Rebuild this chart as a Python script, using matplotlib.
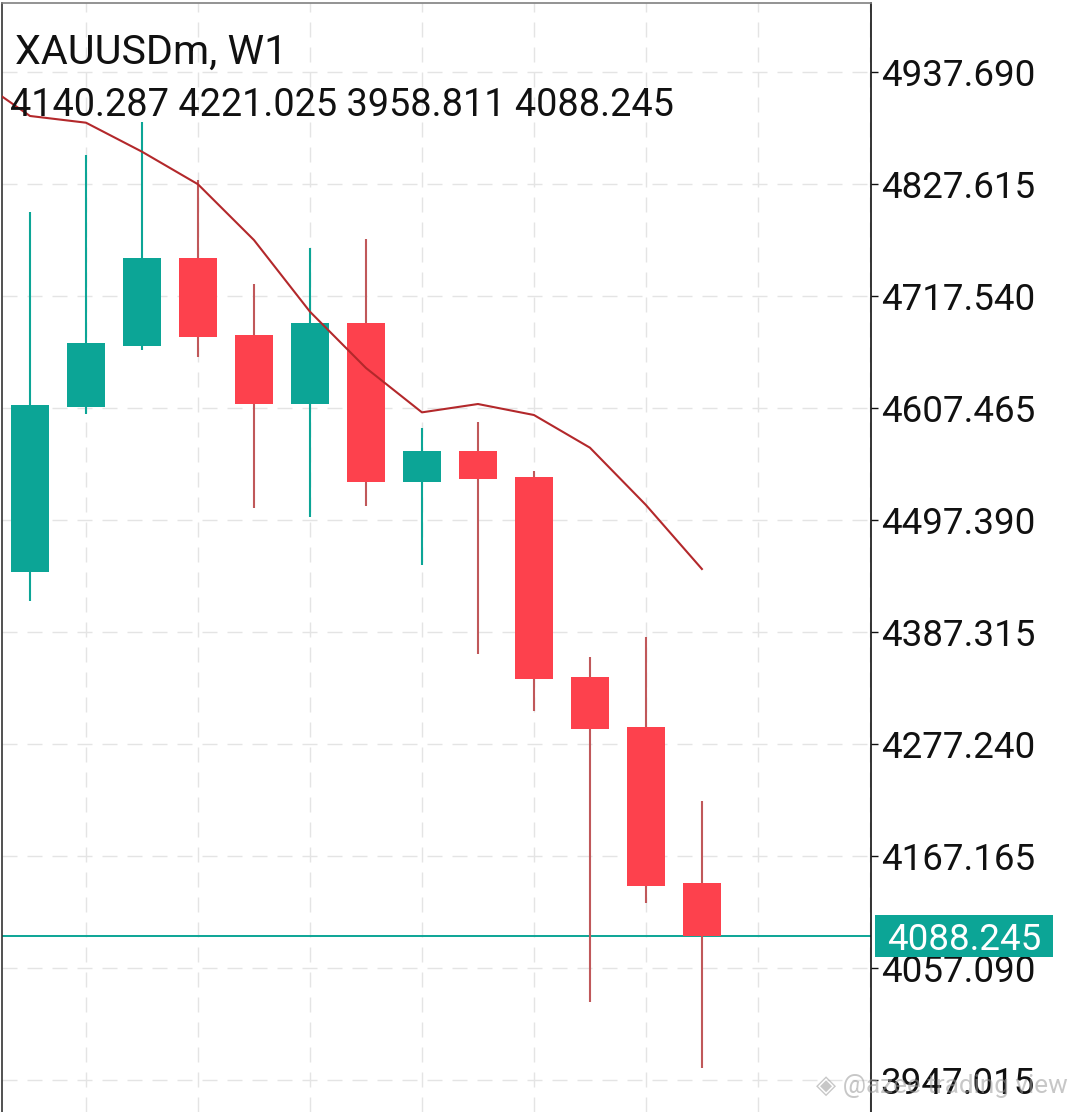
import matplotlib
matplotlib.use("Agg")
import matplotlib.pyplot as plt
from matplotlib.patches import Rectangle
from matplotlib.transforms import blended_transform_factory
import numpy as np

UP = "#0ca596"; DOWN = "#fd414d"; DOWN_WICK = "#c0585a"; MA_C = "#b3282b"
GRID = "#e4e4e4"; INK = "#111111"

plt.rcParams["font.family"] = ["Roboto", "DejaVu Sans"]

symbol = "XAUUSDm, W1"
opens  = [4446.1, 4608.3, 4668.2, 4754.7, 4679.0, 4611.2, 4690.8, 4534.6, 4565.5, 4539.5, 4343.0, 4293.4, 4140.287]
highs  = [4799.8, 4855.9, 4888.3, 4831.3, 4729.1, 4764.5, 4773.3, 4587.6, 4594.0, 4545.4, 4362.6, 4381.8, 4221.025]
lows   = [4417.6, 4601.4, 4664.3, 4657.4, 4509.0, 4500.2, 4511.0, 4453.0, 4365.6, 4309.6, 4023.7, 4120.9, 3958.811]
closes = [4610.2, 4671.1, 4754.7, 4677.0, 4611.2, 4690.8, 4534.6, 4565.5, 4537.5, 4341.0, 4291.9, 4137.6, 4088.245]
# moving average, first value belongs to the week before the first candle
ma_idx  = list(range(-1, 13))
ma_vals = [4932.5, 4894.2, 4887.6, 4859.1, 4827.1, 4772.3, 4701.9, 4646.6,
           4603.0, 4611.2, 4600.4, 4568.3, 4512.0, 4449.1]
yticks = [3947.015, 4057.090, 4167.165, 4277.240, 4387.315,
          4497.390, 4607.465, 4717.540, 4827.615, 4937.690]

W, H = 1080, 1112
fig = plt.figure(figsize=(W / 100, H / 100), dpi=100)
ax = fig.add_axes([2 / W, 0, 869 / W, 1109 / H])

x = np.arange(len(opens))
for i in x:
    o, h, l, c = opens[i], highs[i], lows[i], closes[i]
    up = c >= o
    ax.vlines(i, l, h, color=UP if up else DOWN_WICK, lw=1.5, zorder=3)
    ax.bar(i, abs(c - o), bottom=min(o, c), width=0.68,
           color=UP if up else DOWN, zorder=4, linewidth=0)

ax.plot(ma_idx, ma_vals, color=MA_C, lw=1.5, zorder=5)
last = closes[-1]
ax.axhline(last, color=UP, lw=1.4, zorder=2)

ax.set_xlim(-0.5, 15.02)
ax.set_ylim(3915.6, 5005.2)

ax.yaxis.tick_right()
ax.set_yticks(yticks)
ax.set_yticklabels([f"{v:.3f}" for v in yticks], fontsize=26.5, color=INK)
ax.tick_params(axis="y", direction="out", length=5, width=1, pad=2, color=INK)
ax.set_xticks(np.arange(1, 16, 2))
ax.tick_params(axis="x", length=0, labelbottom=False)
ax.grid(True, color=GRID, lw=1, ls=(0, (10.8, 7.2)), zorder=0)
ax.set_axisbelow(True)

ax.spines["bottom"].set_visible(False)
ax.spines["top"].set_color("#808080")
ax.spines["left"].set_color("#333333")
ax.spines["right"].set_color(INK)
for s in ax.spines.values():
    s.set_linewidth(1.2)

# last price tag
tr = blended_transform_factory(ax.transAxes, ax.transData)
box_h = 41.3
ax.add_patch(Rectangle((873 / 869, last - box_h / 2), 178 / 869, box_h,
                       transform=tr, facecolor=UP, edgecolor="none",
                       clip_on=False, zorder=6))
ax.text(962 / 869, last, f"{last:.3f}", transform=tr, ha="center", va="center_baseline",
        fontsize=26.5, color="white", zorder=7, clip_on=False)

# header
fig.text(15 / W, 1 - 48 / H, symbol, fontsize=29.7, color=INK, ha="left", va="center_baseline")
fig.text(10 / W, 1 - 101 / H, " ".join(f"{v:.3f}" for v in (opens[-1], highs[-1], lows[-1], closes[-1])),
         fontsize=27.3, color=INK, ha="left", va="center_baseline")

# watermark
fig.text(816 / W, 1 - 1084 / H, "\u25c8 @azee trading view", fontsize=18.8, color="#9a9a9a",
         alpha=0.55, ha="left", va="center_baseline")

fig.savefig("out.png", dpi=100, facecolor="white")
